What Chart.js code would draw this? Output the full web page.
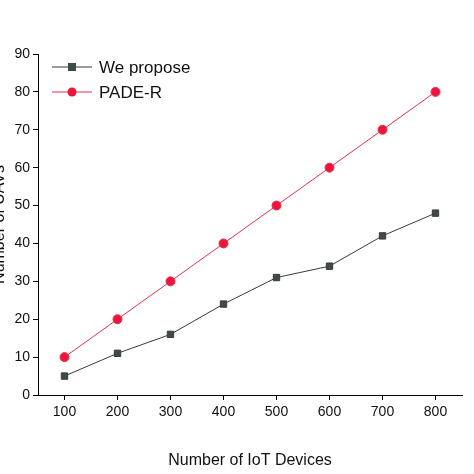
<!DOCTYPE html>
<html>
<head>
<script src="https://cdn.jsdelivr.net/npm/chart.js@4"></script>
<style>
body { margin: 0; background: #fff; overflow: hidden; }
#wrap { width: 484px; height: 474px; margin-left: -10px; }
</style>
</head>
<body>
<div id="wrap"><canvas id="c"></canvas></div>
<script>
const devices = [100, 200, 300, 400, 500, 600, 700, 800];
const wePropose = [5, 11, 16, 24, 31, 34, 42, 48];
const padeR = [10, 20, 30, 40, 50, 60, 70, 80];
const seriesNames = ['We propose', 'PADE-R'];

function pts(ys) { return devices.map((x, i) => ({ x: x, y: ys[i] })); }

// legend drawn inside the plot, line + marker like the original
const innerLegend = {
    id: 'innerLegend',
    afterDraw(chart) {
        const c = chart.ctx, a = chart.chartArea;
        chart.data.datasets.forEach((ds, i) => {
            const y = a.top + 13 + i * 25, x0 = a.left + 14;
            c.save();
            c.strokeStyle = ds.borderColor; c.lineWidth = 1;
            c.beginPath(); c.moveTo(x0, y); c.lineTo(x0 + 40, y); c.stroke();
            c.fillStyle = ds.backgroundColor;
            if (ds.pointStyle === 'rect') c.fillRect(x0 + 16, y - 4, 8, 8);
            else { c.beginPath(); c.arc(x0 + 20, y, 4.5, 0, Math.PI * 2); c.fill(); }
            c.fillStyle = '#111'; c.font = '17px Arial, "Liberation Sans"';
            c.textBaseline = 'middle';
            c.fillText(ds.label, x0 + 47, y + 1);
            c.restore();
        });
    }
};

const tickFont = { size: 14, family: 'Arial, "Liberation Sans"' };
const axisGrid = { drawOnChartArea: false, drawTicks: true, tickLength: 5, color: '#000' };

new Chart(document.getElementById('c'), {
    type: 'line',
    data: {
        datasets: [
            { label: seriesNames[0], data: pts(wePropose), borderColor: '#3a3a3a', backgroundColor: '#3f4a4a',
              pointStyle: 'rect', pointRadius: 4.5, borderWidth: 1 },
            { label: seriesNames[1], data: pts(padeR), borderColor: '#e0334f', backgroundColor: '#f0143c',
              pointStyle: 'circle', pointRadius: 4.5, borderWidth: 1 }
        ]
    },
    options: {
        animation: false,
        responsive: true,
        maintainAspectRatio: false,
        layout: { padding: { top: 54, right: 12, bottom: 0, left: 0 } },
        plugins: { legend: { display: false }, tooltip: { enabled: false } },
        scales: {
            x: {
                type: 'linear', min: 50, max: 850,
                afterBuildTicks(s) { s.ticks = devices.map(v => ({ value: v })); },
                afterFit(s) { s.height = 79; },
                grid: axisGrid,
                border: { color: '#000', width: 1 },
                ticks: { color: '#111', font: tickFont, padding: 4 },
                title: { display: true, text: 'Number of IoT Devices', color: '#111',
                         font: { size: 16, family: 'Arial, "Liberation Sans"' }, padding: { top: 2 } }
            },
            y: {
                min: 0, max: 90,
                afterFit(s) { s.width = 48; },
                grid: axisGrid,
                border: { color: '#000', width: 1 },
                ticks: { stepSize: 10, color: '#111', font: tickFont, padding: 3 },
                title: { display: true, text: 'Number of UAVs', color: '#111',
                         font: { size: 16, family: 'Arial, "Liberation Sans"' }, padding: 0 }
            }
        }
    },
    plugins: [innerLegend]
});
</script>
</body>
</html>
